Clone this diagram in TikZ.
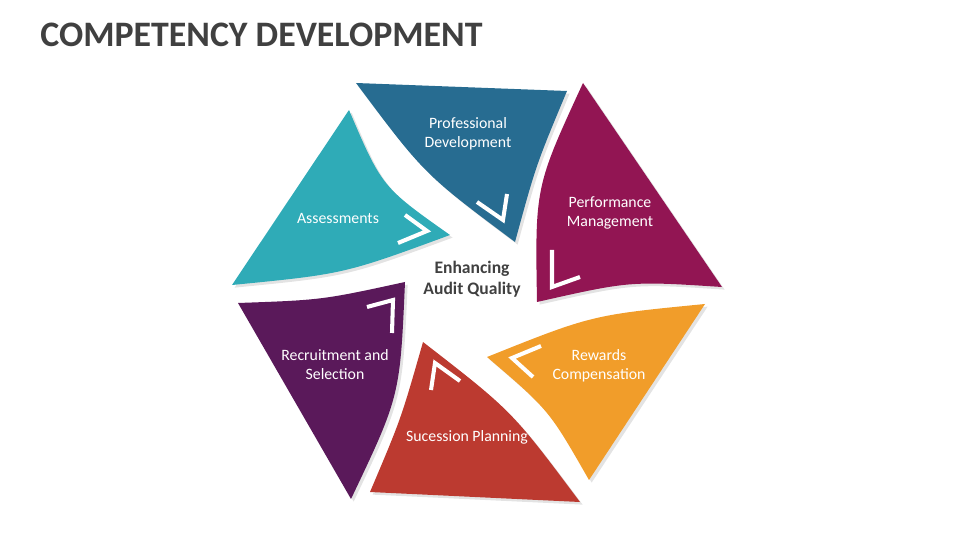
\documentclass[tikz,border=0pt]{standalone}
\usepackage{fontspec}
\setmainfont{Carlito}
\usepackage{tikz}
\usetikzlibrary{shadows}

\definecolor{assesscol}{HTML}{2FABB7}
\definecolor{profcol}{HTML}{276C91}
\definecolor{perfcol}{HTML}{921553}
\definecolor{rewardcol}{HTML}{F19D2A}
\definecolor{succcol}{HTML}{BC3A30}
\definecolor{recruitcol}{HTML}{5A195A}
\definecolor{darktext}{HTML}{404040}

\begin{document}
\begin{tikzpicture}[x=0.02cm, y=-0.02cm,
        piece/.style = {drop shadow={opacity=0.22, shadow xshift=1.5pt, shadow yshift=-1.5pt}},
        seg text/.style = {text=white, align=center, inner sep=0pt, font=\fontsize{9}{10.8}\selectfont},
        chevron/.style = {white, line width=2.3pt, miter limit=4}
    ]
    \useasboundingbox (0,0) rectangle (960,540);

    % Title
    \node (title) [anchor=base west, inner sep=0pt, text=darktext, font=\fontsize{20.4}{24}\selectfont\bfseries] at (40,47) {COMPETENCY DEVELOPMENT};

    % Pieces
    \fill[piece, fill=assesscol] (349,110) .. controls (382,187) .. (450,235) .. controls (344,274) .. (232,285) -- cycle;
    \fill[piece, fill=profcol] (567,91) .. controls (536,165) .. (515,242) .. controls (424,174) .. (356,83) -- cycle;
    \fill[piece, fill=perfcol] (722,287) .. controls (630,281) .. (537,302) .. controls (535,187) .. (583,83) -- cycle;
    \fill[piece, fill=rewardcol] (589,480) .. controls (549,410) .. (487,357) .. controls (592,315) .. (705,304) -- cycle;
    \fill[piece, fill=succcol] (370,492) .. controls (401,419) .. (423,342) .. controls (512,411) .. (580,502) -- cycle;
    \fill[piece, fill=recruitcol] (238,303) .. controls (322,300) .. (405,282) .. controls (400,396) .. (351,499) -- cycle;

    % Chevrons
    \draw[chevron] (405,215) -- (427,231) -- (398,243);
    \draw[chevron] (477,202) -- (503,220) -- (507,194);
    \draw[chevron] (552,250) -- (552,287) -- (580,277);
    \draw[chevron] (541,346) -- (512,358) -- (533,377);
    \draw[chevron] (431,390) -- (435,363) -- (460,381);
    \draw[chevron] (367,307) -- (393,300) -- (392,333);

    % Labels
    \node (assess) [seg text] at (338,218) {Assessments};
    \node (prof) [seg text] at (468,134) {Professional\\Development};
    \node (perf) [seg text] at (610,213) {Performance\\Management};
    \node (reward) [seg text] at (599,366) {Rewards\\Compensation};
    \node (succ) [seg text] at (467,437) {Sucession Planning};
    \node (recruit) [seg text] at (335,365) {Recruitment and\\Selection};
    \node (center) [align=center, inner sep=0pt, text=darktext, font=\fontsize{10}{12}\selectfont\bfseries] at (472,279) {Enhancing\\Audit Quality};

\end{tikzpicture}
\end{document}
